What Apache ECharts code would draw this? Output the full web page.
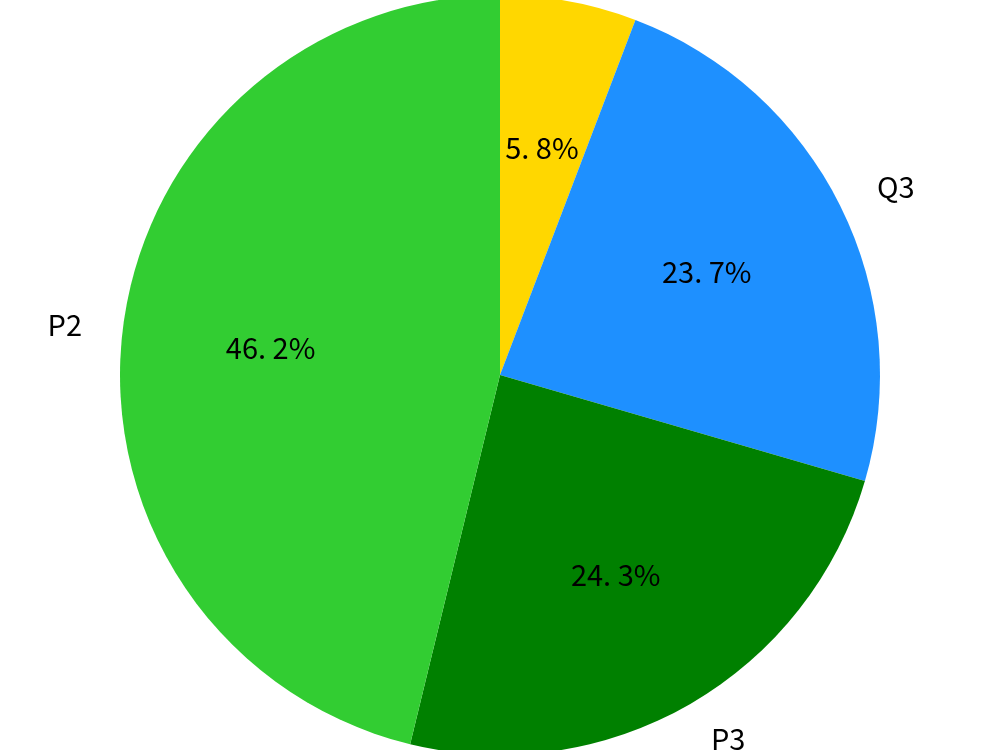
<!DOCTYPE html>
<html><head><meta charset="utf-8">
<script src="https://cdn.jsdelivr.net/npm/echarts@6/dist/echarts.min.js"></script>
<style>html,body{margin:0;padding:0;background:#fff}#c{width:1000px;height:750px}</style>
</head><body><div id="c"></div>
<script>
var categories = ['Q2', 'Q3', 'P3', 'P2'];
var values = [5.8, 23.7, 24.3, 46.2];
var colors = ['#FFD700', '#1E90FF', '#008000', '#32CD32'];

var chart = echarts.init(document.getElementById('c'));
var font = '"Noto Sans CJK JP", "Noto Sans", sans-serif';
function data(style) {
  return categories.map(function (n, i) {
    return { name: n, value: values[i], itemStyle: style ? { color: colors[i] } : { color: 'rgba(0,0,0,0)' } };
  });
}
chart.setOption({
  animation: false,
  series: [
    {
      type: 'pie', center: [500, 375], radius: 380, startAngle: 90, clockwise: true,
      silent: true, label: { show: false }, labelLine: { show: false },
      data: data(true)
    },
    {
      type: 'pie', center: [500, 375], radius: 456, startAngle: 90, clockwise: true,
      silent: true, labelLine: { show: false },
      label: { show: true, position: 'inside', formatter: function (p) { return p.value.toFixed(1).replace('.', '. ') + '%'; },
        color: '#000', fontSize: 29, fontFamily: font },
      data: data(false)
    },
    {
      type: 'pie', center: [500, 375], radius: 836, startAngle: 90, clockwise: true,
      silent: true, labelLine: { show: false },
      label: { show: true, position: 'inside', formatter: '{b}', color: '#000', fontSize: 29, fontFamily: font },
      labelLayout: function (p) {
        var cx = p.labelRect.x + p.labelRect.width / 2;
        return { align: cx >= 500 ? 'left' : 'right' };
      },
      data: data(false)
    }
  ]
});
</script></body></html>
